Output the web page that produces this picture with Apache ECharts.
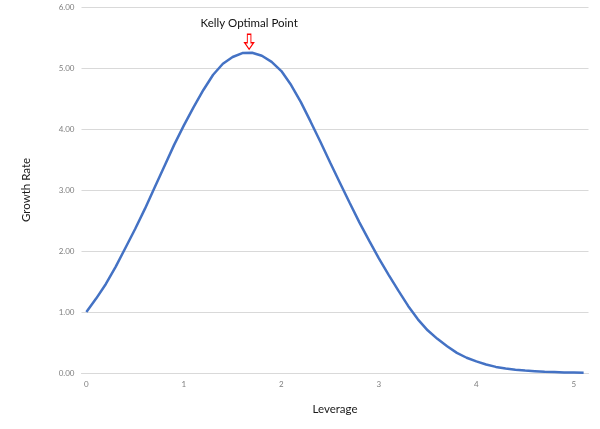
<!DOCTYPE html>
<html>
<head>
<meta charset="utf-8">
<script src="https://cdn.jsdelivr.net/npm/echarts@6/dist/echarts.min.js"></script>
<style>
html,body{margin:0;padding:0;background:#fff;}
#c{width:600px;height:429px;}
</style>
</head>
<body>
<div id="c"></div>
<script>
var leverage = ['0.0','0.1','0.2','0.3','0.4','0.5','0.6','0.7','0.8','0.9',
  '1.0','1.1','1.2','1.3','1.4','1.5','1.6','1.7','1.8','1.9',
  '2.0','2.1','2.2','2.3','2.4','2.5','2.6','2.7','2.8','2.9',
  '3.0','3.1','3.2','3.3','3.4','3.5','3.6','3.7','3.8','3.9',
  '4.0','4.1','4.2','4.3','4.4','4.5','4.6','4.7','4.8','4.9',
  '5.0','5.1'];
var growthRate = [1.00,1.22,1.46,1.74,2.05,2.36,2.69,3.04,3.39,3.74,
  4.06,4.36,4.64,4.89,5.07,5.18,5.245,5.25,5.20,5.10,
  4.95,4.72,4.44,4.12,3.79,3.45,3.12,2.79,2.47,2.17,
  1.88,1.61,1.35,1.10,0.88,0.70,0.56,0.44,0.33,0.25,
  0.19,0.14,0.10,0.075,0.055,0.04,0.03,0.02,0.015,0.01,
  0.008,0.005];
var yTicks = {min:0, max:6, step:1};
var annotation = 'Kelly Optimal Point';

var chart = echarts.init(document.getElementById('c'), null, {renderer:'canvas'});
chart.setOption({
  animation:false,
  backgroundColor:'#ffffff',
  grid:{left:81.5, right:11.5, top:7, bottom:56, containLabel:false},
  xAxis:{
    type:'category',
    data:leverage,
    boundaryGap:true,
    name:'Leverage',
    nameLocation:'middle',
    nameGap:30,
    nameTextStyle:{color:'#1a1a1a', fontSize:11.5, fontFamily:'Lato'},
    axisLine:{show:true, lineStyle:{color:'#d9d9d9', width:1}},
    axisTick:{show:false},
    axisLabel:{interval:9, color:'#7f7f7f', fontSize:8, margin:7, fontFamily:'Lato',
      formatter:function(v){return String(parseFloat(v));}},
    splitLine:{show:false}
  },
  yAxis:{
    type:'value',
    min:yTicks.min, max:yTicks.max, interval:yTicks.step,
    name:'Growth Rate',
    nameLocation:'middle',
    nameRotate:90,
    nameGap:49,
    nameTextStyle:{color:'#1a1a1a', fontSize:11.5, fontFamily:'Lato'},
    axisLine:{show:false},
    axisTick:{show:false},
    axisLabel:{color:'#7f7f7f', fontSize:8, margin:7, fontFamily:'Lato',
      formatter:function(v){return v.toFixed(2);}},
    splitLine:{lineStyle:{color:'#d9d9d9', width:1}}
  },
  series:[{
    type:'line',
    data:growthRate,
    smooth:false,
    showSymbol:false,
    symbol:'none',
    lineStyle:{color:'#4472c4', width:2.5},
    markPoint:{
      silent:true,
      data:[{type:'max'}],
      symbol:'path://M3,0 L7,0 L7,9 L10,9 L5,16 L0,9 L3,9 Z',
      symbolSize:[9,15],
      symbolOffset:[-3,-11],
      itemStyle:{color:'#ffffff', borderColor:'#ff0000', borderWidth:1.2},
      label:{show:true, position:'top', distance:4, formatter:annotation,
        color:'#111111', fontSize:11.5, fontFamily:'Lato'}
    }
  }]
});
</script>
</body>
</html>
